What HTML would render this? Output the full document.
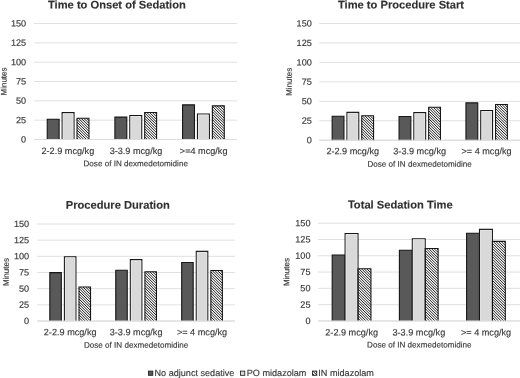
<!DOCTYPE html>
<html lang="en"><head><meta charset="utf-8"><title>Sedation times by dose of IN dexmedetomidine</title>
<style>html,body{margin:0;padding:0;background:#fff}body{width:520px;height:378px;overflow:hidden}svg{display:block}text{font-family:"Liberation Sans",sans-serif;fill:#383838;stroke:#383838;stroke-width:.15px}.t{font-weight:bold;font-size:11.15px;fill:#303030;stroke:#303030;stroke-width:.12px}.k{font-size:9.15px}.m{font-size:8px}.c{font-size:9.15px}.a{font-size:8.1px}.l{font-size:9.1px}</style></head><body>
<svg width="520" height="378" viewBox="0 0 520 378">
<rect width="520" height="378" fill="#fff"/>
<g>
<text class="t" transform="translate(116.90 8.50) rotate(0.03)" text-anchor="middle">Time to Onset of Sedation</text>
<line x1="34.0" x2="237.0" y1="23.50" y2="23.50" stroke="#dcdcdc" stroke-width="0.9"/>
<text class="k" transform="translate(26.20 26.50) rotate(0.03)" text-anchor="end">150</text>
<line x1="34.0" x2="237.0" y1="42.83" y2="42.83" stroke="#dcdcdc" stroke-width="0.9"/>
<text class="k" transform="translate(26.20 45.83) rotate(0.03)" text-anchor="end">125</text>
<line x1="34.0" x2="237.0" y1="62.17" y2="62.17" stroke="#dcdcdc" stroke-width="0.9"/>
<text class="k" transform="translate(26.20 65.17) rotate(0.03)" text-anchor="end">100</text>
<line x1="34.0" x2="237.0" y1="81.50" y2="81.50" stroke="#dcdcdc" stroke-width="0.9"/>
<text class="k" transform="translate(26.20 84.50) rotate(0.03)" text-anchor="end">75</text>
<line x1="34.0" x2="237.0" y1="100.83" y2="100.83" stroke="#dcdcdc" stroke-width="0.9"/>
<text class="k" transform="translate(26.20 103.83) rotate(0.03)" text-anchor="end">50</text>
<line x1="34.0" x2="237.0" y1="120.17" y2="120.17" stroke="#dcdcdc" stroke-width="0.9"/>
<text class="k" transform="translate(26.20 123.17) rotate(0.03)" text-anchor="end">25</text>
<line x1="34.0" x2="237.0" y1="139.50" y2="139.50" stroke="#dcdcdc" stroke-width="0.9"/>
<text class="k" transform="translate(26.20 142.50) rotate(0.03)" text-anchor="end">0</text>
<text class="m" transform="translate(6.50 81.50) rotate(-89.97)" text-anchor="middle">Minutes</text>
<path d="M47.23 139.50V119.20H59.13V139.50" fill="#595959" stroke="#161616" stroke-width="1.1"/>
<path d="M62.13 139.50V112.60H74.03V139.50" fill="#d9d9d9" stroke="#161616" stroke-width="1.1"/>
<path d="M63.13 139.50V113.60H73.03V139.50" fill="none" stroke="#ececec" stroke-width="0.6"/>
<path d="M86.40 118.20L88.93 120.73M83.75 118.20L88.93 123.38M81.10 118.20L88.93 126.03M78.45 118.20L88.93 128.68M77.03 119.43L88.93 131.33M77.03 122.08L88.93 133.98M77.03 124.73L88.93 136.63M77.03 127.38L88.93 139.28M77.03 130.03L86.50 139.50M77.03 132.68L83.85 139.50M77.03 135.33L81.20 139.50M77.03 137.98L78.55 139.50" stroke="#000" stroke-width="0.90" fill="none"/>
<path d="M77.03 139.50V118.20H88.93V139.50" fill="none" stroke="#161616" stroke-width="1.1"/>
<text class="c" transform="translate(67.83 153.90) rotate(0.03)" text-anchor="middle">2-2.9 mcg/kg</text>
<path d="M114.90 139.50V117.10H126.80V139.50" fill="#595959" stroke="#161616" stroke-width="1.1"/>
<path d="M129.80 139.50V115.50H141.70V139.50" fill="#d9d9d9" stroke="#161616" stroke-width="1.1"/>
<path d="M130.80 139.50V116.50H140.70V139.50" fill="none" stroke="#ececec" stroke-width="0.6"/>
<path d="M154.90 112.50L156.60 114.20M152.25 112.50L156.60 116.85M149.60 112.50L156.60 119.50M146.95 112.50L156.60 122.15M144.70 112.90L156.60 124.80M144.70 115.55L156.60 127.45M144.70 118.20L156.60 130.10M144.70 120.85L156.60 132.75M144.70 123.50L156.60 135.40M144.70 126.15L156.60 138.05M144.70 128.80L155.40 139.50M144.70 131.45L152.75 139.50M144.70 134.10L150.10 139.50M144.70 136.75L147.45 139.50M144.70 139.40L144.80 139.50" stroke="#000" stroke-width="0.90" fill="none"/>
<path d="M144.70 139.50V112.50H156.60V139.50" fill="none" stroke="#161616" stroke-width="1.1"/>
<text class="c" transform="translate(136.00 153.90) rotate(0.03)" text-anchor="middle">3-3.9 mcg/kg</text>
<path d="M182.57 139.50V104.85H194.47V139.50" fill="#595959" stroke="#161616" stroke-width="1.1"/>
<path d="M197.47 139.50V114.00H209.37V139.50" fill="#d9d9d9" stroke="#161616" stroke-width="1.1"/>
<path d="M198.47 139.50V115.00H208.37V139.50" fill="none" stroke="#ececec" stroke-width="0.6"/>
<path d="M222.45 105.85L224.27 107.67M219.80 105.85L224.27 110.32M217.15 105.85L224.27 112.97M214.50 105.85L224.27 115.62M212.37 106.37L224.27 118.27M212.37 109.02L224.27 120.92M212.37 111.67L224.27 123.57M212.37 114.32L224.27 126.22M212.37 116.97L224.27 128.87M212.37 119.62L224.27 131.52M212.37 122.27L224.27 134.17M212.37 124.92L224.27 136.82M212.37 127.57L224.27 139.47M212.37 130.22L221.65 139.50M212.37 132.87L219.00 139.50M212.37 135.52L216.35 139.50M212.37 138.17L213.70 139.50" stroke="#000" stroke-width="0.90" fill="none"/>
<path d="M212.37 139.50V105.85H224.27V139.50" fill="none" stroke="#161616" stroke-width="1.1"/>
<text class="c" transform="translate(203.67 153.90) rotate(0.03)" text-anchor="middle">&gt;=4 mcg/kg</text>
<line x1="34.0" x2="237.0" y1="139.50" y2="139.50" stroke="#dcdcdc" stroke-width="1"/>
<text class="a" transform="translate(135.70 166.30) rotate(0.03)" text-anchor="middle">Dose of IN dexmedetomidine</text>
</g>
<g>
<text class="t" transform="translate(401.00 8.50) rotate(0.03)" text-anchor="middle">Time to Procedure Start</text>
<line x1="319.3" x2="520.0" y1="23.50" y2="23.50" stroke="#dcdcdc" stroke-width="0.9"/>
<text class="k" transform="translate(311.80 26.50) rotate(0.03)" text-anchor="end">150</text>
<line x1="319.3" x2="520.0" y1="42.95" y2="42.95" stroke="#dcdcdc" stroke-width="0.9"/>
<text class="k" transform="translate(311.80 45.95) rotate(0.03)" text-anchor="end">125</text>
<line x1="319.3" x2="520.0" y1="62.40" y2="62.40" stroke="#dcdcdc" stroke-width="0.9"/>
<text class="k" transform="translate(311.80 65.40) rotate(0.03)" text-anchor="end">100</text>
<line x1="319.3" x2="520.0" y1="81.85" y2="81.85" stroke="#dcdcdc" stroke-width="0.9"/>
<text class="k" transform="translate(311.80 84.85) rotate(0.03)" text-anchor="end">75</text>
<line x1="319.3" x2="520.0" y1="101.30" y2="101.30" stroke="#dcdcdc" stroke-width="0.9"/>
<text class="k" transform="translate(311.80 104.30) rotate(0.03)" text-anchor="end">50</text>
<line x1="319.3" x2="520.0" y1="120.75" y2="120.75" stroke="#dcdcdc" stroke-width="0.9"/>
<text class="k" transform="translate(311.80 123.75) rotate(0.03)" text-anchor="end">25</text>
<line x1="319.3" x2="520.0" y1="140.20" y2="140.20" stroke="#dcdcdc" stroke-width="0.9"/>
<text class="k" transform="translate(311.80 143.20) rotate(0.03)" text-anchor="end">0</text>
<text class="m" transform="translate(291.80 81.85) rotate(-89.97)" text-anchor="middle">Minutes</text>
<path d="M332.15 140.20V116.20H343.95V140.20" fill="#595959" stroke="#161616" stroke-width="1.1"/>
<path d="M346.95 140.20V112.40H358.75V140.20" fill="#d9d9d9" stroke="#161616" stroke-width="1.1"/>
<path d="M347.95 140.20V113.40H357.75V140.20" fill="none" stroke="#ececec" stroke-width="0.6"/>
<path d="M372.80 115.75L373.55 116.50M370.15 115.75L373.55 119.15M367.50 115.75L373.55 121.80M364.85 115.75L373.55 124.45M362.20 115.75L373.55 127.10M361.75 117.95L373.55 129.75M361.75 120.60L373.55 132.40M361.75 123.25L373.55 135.05M361.75 125.90L373.55 137.70M361.75 128.55L373.40 140.20M361.75 131.20L370.75 140.20M361.75 133.85L368.10 140.20M361.75 136.50L365.45 140.20M361.75 139.15L362.80 140.20" stroke="#000" stroke-width="0.90" fill="none"/>
<path d="M361.75 140.20V115.75H373.55V140.20" fill="none" stroke="#161616" stroke-width="1.1"/>
<text class="c" transform="translate(352.75 154.25) rotate(0.03)" text-anchor="middle">2-2.9 mcg/kg</text>
<path d="M399.05 140.20V116.45H410.85V140.20" fill="#595959" stroke="#161616" stroke-width="1.1"/>
<path d="M413.85 140.20V112.60H425.65V140.20" fill="#d9d9d9" stroke="#161616" stroke-width="1.1"/>
<path d="M414.85 140.20V113.60H424.65V140.20" fill="none" stroke="#ececec" stroke-width="0.6"/>
<path d="M438.55 107.30L440.45 109.20M435.90 107.30L440.45 111.85M433.25 107.30L440.45 114.50M430.60 107.30L440.45 117.15M428.65 108.00L440.45 119.80M428.65 110.65L440.45 122.45M428.65 113.30L440.45 125.10M428.65 115.95L440.45 127.75M428.65 118.60L440.45 130.40M428.65 121.25L440.45 133.05M428.65 123.90L440.45 135.70M428.65 126.55L440.45 138.35M428.65 129.20L439.65 140.20M428.65 131.85L437.00 140.20M428.65 134.50L434.35 140.20M428.65 137.15L431.70 140.20M428.65 139.80L429.05 140.20" stroke="#000" stroke-width="0.90" fill="none"/>
<path d="M428.65 140.20V107.30H440.45V140.20" fill="none" stroke="#161616" stroke-width="1.1"/>
<text class="c" transform="translate(419.65 154.25) rotate(0.03)" text-anchor="middle">3-3.9 mcg/kg</text>
<path d="M465.95 140.20V102.85H477.75V140.20" fill="#595959" stroke="#161616" stroke-width="1.1"/>
<path d="M480.75 140.20V110.50H492.55V140.20" fill="#d9d9d9" stroke="#161616" stroke-width="1.1"/>
<path d="M481.75 140.20V111.50H491.55V140.20" fill="none" stroke="#ececec" stroke-width="0.6"/>
<path d="M507.30 104.50L507.35 104.55M504.65 104.50L507.35 107.20M502.00 104.50L507.35 109.85M499.35 104.50L507.35 112.50M496.70 104.50L507.35 115.15M495.55 106.00L507.35 117.80M495.55 108.65L507.35 120.45M495.55 111.30L507.35 123.10M495.55 113.95L507.35 125.75M495.55 116.60L507.35 128.40M495.55 119.25L507.35 131.05M495.55 121.90L507.35 133.70M495.55 124.55L507.35 136.35M495.55 127.20L507.35 139.00M495.55 129.85L505.90 140.20M495.55 132.50L503.25 140.20M495.55 135.15L500.60 140.20M495.55 137.80L497.95 140.20" stroke="#000" stroke-width="0.90" fill="none"/>
<path d="M495.55 140.20V104.50H507.35V140.20" fill="none" stroke="#161616" stroke-width="1.1"/>
<text class="c" transform="translate(486.55 154.25) rotate(0.03)" text-anchor="middle">&gt;= 4 mcg/kg</text>
<line x1="319.3" x2="520.0" y1="140.20" y2="140.20" stroke="#dcdcdc" stroke-width="1"/>
<text class="a" transform="translate(419.65 166.80) rotate(0.03)" text-anchor="middle">Dose of IN dexmedetomidine</text>
</g>
<g>
<text class="t" transform="translate(117.80 208.70) rotate(0.03)" text-anchor="middle">Procedure Duration</text>
<line x1="37.2" x2="235.0" y1="224.00" y2="224.00" stroke="#dcdcdc" stroke-width="0.9"/>
<text class="k" transform="translate(29.20 227.00) rotate(0.03)" text-anchor="end">150</text>
<line x1="37.2" x2="235.0" y1="240.17" y2="240.17" stroke="#dcdcdc" stroke-width="0.9"/>
<text class="k" transform="translate(29.20 243.17) rotate(0.03)" text-anchor="end">125</text>
<line x1="37.2" x2="235.0" y1="256.33" y2="256.33" stroke="#dcdcdc" stroke-width="0.9"/>
<text class="k" transform="translate(29.20 259.33) rotate(0.03)" text-anchor="end">100</text>
<line x1="37.2" x2="235.0" y1="272.50" y2="272.50" stroke="#dcdcdc" stroke-width="0.9"/>
<text class="k" transform="translate(29.20 275.50) rotate(0.03)" text-anchor="end">75</text>
<line x1="37.2" x2="235.0" y1="288.67" y2="288.67" stroke="#dcdcdc" stroke-width="0.9"/>
<text class="k" transform="translate(29.20 291.67) rotate(0.03)" text-anchor="end">50</text>
<line x1="37.2" x2="235.0" y1="304.83" y2="304.83" stroke="#dcdcdc" stroke-width="0.9"/>
<text class="k" transform="translate(29.20 307.83) rotate(0.03)" text-anchor="end">25</text>
<line x1="37.2" x2="235.0" y1="321.00" y2="321.00" stroke="#dcdcdc" stroke-width="0.9"/>
<text class="k" transform="translate(29.20 324.00) rotate(0.03)" text-anchor="end">0</text>
<text class="m" transform="translate(8.75 272.10) rotate(-89.97)" text-anchor="middle">Minutes</text>
<path d="M49.82 321.00V272.60H61.32V321.00" fill="#595959" stroke="#161616" stroke-width="1.1"/>
<path d="M64.42 321.00V256.70H75.92V321.00" fill="#d9d9d9" stroke="#161616" stroke-width="1.1"/>
<path d="M65.42 321.00V257.70H74.92V321.00" fill="none" stroke="#ececec" stroke-width="0.6"/>
<path d="M88.30 287.05L90.52 289.27M85.65 287.05L90.52 291.92M83.00 287.05L90.52 294.57M80.35 287.05L90.52 297.22M79.02 288.37L90.52 299.87M79.02 291.02L90.52 302.52M79.02 293.67L90.52 305.17M79.02 296.32L90.52 307.82M79.02 298.97L90.52 310.47M79.02 301.62L90.52 313.12M79.02 304.27L90.52 315.77M79.02 306.92L90.52 318.42M79.02 309.57L90.45 321.00M79.02 312.22L87.80 321.00M79.02 314.87L85.15 321.00M79.02 317.52L82.50 321.00M79.02 320.17L79.85 321.00" stroke="#000" stroke-width="0.90" fill="none"/>
<path d="M79.02 321.00V287.05H90.52V321.00" fill="none" stroke="#161616" stroke-width="1.1"/>
<text class="c" transform="translate(70.17 335.20) rotate(0.03)" text-anchor="middle">2-2.9 mcg/kg</text>
<path d="M115.75 321.00V270.25H127.25V321.00" fill="#595959" stroke="#161616" stroke-width="1.1"/>
<path d="M130.35 321.00V259.65H141.85V321.00" fill="#d9d9d9" stroke="#161616" stroke-width="1.1"/>
<path d="M131.35 321.00V260.65H140.85V321.00" fill="none" stroke="#ececec" stroke-width="0.6"/>
<path d="M155.15 271.75L156.45 273.05M152.50 271.75L156.45 275.70M149.85 271.75L156.45 278.35M147.20 271.75L156.45 281.00M144.95 272.15L156.45 283.65M144.95 274.80L156.45 286.30M144.95 277.45L156.45 288.95M144.95 280.10L156.45 291.60M144.95 282.75L156.45 294.25M144.95 285.40L156.45 296.90M144.95 288.05L156.45 299.55M144.95 290.70L156.45 302.20M144.95 293.35L156.45 304.85M144.95 296.00L156.45 307.50M144.95 298.65L156.45 310.15M144.95 301.30L156.45 312.80M144.95 303.95L156.45 315.45M144.95 306.60L156.45 318.10M144.95 309.25L156.45 320.75M144.95 311.90L154.05 321.00M144.95 314.55L151.40 321.00M144.95 317.20L148.75 321.00M144.95 319.85L146.10 321.00" stroke="#000" stroke-width="0.90" fill="none"/>
<path d="M144.95 321.00V271.75H156.45V321.00" fill="none" stroke="#161616" stroke-width="1.1"/>
<text class="c" transform="translate(136.10 335.20) rotate(0.03)" text-anchor="middle">3-3.9 mcg/kg</text>
<path d="M181.68 321.00V262.50H193.18V321.00" fill="#595959" stroke="#161616" stroke-width="1.1"/>
<path d="M196.28 321.00V251.40H207.78V321.00" fill="#d9d9d9" stroke="#161616" stroke-width="1.1"/>
<path d="M197.28 321.00V252.40H206.78V321.00" fill="none" stroke="#ececec" stroke-width="0.6"/>
<path d="M220.20 270.55L222.38 272.73M217.55 270.55L222.38 275.38M214.90 270.55L222.38 278.03M212.25 270.55L222.38 280.68M210.88 271.83L222.38 283.33M210.88 274.48L222.38 285.98M210.88 277.13L222.38 288.63M210.88 279.78L222.38 291.28M210.88 282.43L222.38 293.93M210.88 285.08L222.38 296.58M210.88 287.73L222.38 299.23M210.88 290.38L222.38 301.88M210.88 293.03L222.38 304.53M210.88 295.68L222.38 307.18M210.88 298.33L222.38 309.83M210.88 300.98L222.38 312.48M210.88 303.63L222.38 315.13M210.88 306.28L222.38 317.78M210.88 308.93L222.38 320.43M210.88 311.58L220.30 321.00M210.88 314.23L217.65 321.00M210.88 316.88L215.00 321.00M210.88 319.53L212.35 321.00" stroke="#000" stroke-width="0.90" fill="none"/>
<path d="M210.88 321.00V270.55H222.38V321.00" fill="none" stroke="#161616" stroke-width="1.1"/>
<text class="c" transform="translate(202.03 335.20) rotate(0.03)" text-anchor="middle">&gt;= 4 mcg/kg</text>
<line x1="37.2" x2="235.0" y1="321.00" y2="321.00" stroke="#dcdcdc" stroke-width="1"/>
<text class="a" transform="translate(136.10 347.80) rotate(0.03)" text-anchor="middle">Dose of IN dexmedetomidine</text>
</g>
<g>
<text class="t" transform="translate(400.30 208.40) rotate(0.03)" text-anchor="middle">Total Sedation Time</text>
<line x1="317.9" x2="520.0" y1="223.20" y2="223.20" stroke="#dcdcdc" stroke-width="0.9"/>
<text class="k" transform="translate(310.50 226.20) rotate(0.03)" text-anchor="end">150</text>
<line x1="317.9" x2="520.0" y1="239.49" y2="239.49" stroke="#dcdcdc" stroke-width="0.9"/>
<text class="k" transform="translate(310.50 242.49) rotate(0.03)" text-anchor="end">125</text>
<line x1="317.9" x2="520.0" y1="255.78" y2="255.78" stroke="#dcdcdc" stroke-width="0.9"/>
<text class="k" transform="translate(310.50 258.78) rotate(0.03)" text-anchor="end">100</text>
<line x1="317.9" x2="520.0" y1="272.07" y2="272.07" stroke="#dcdcdc" stroke-width="0.9"/>
<text class="k" transform="translate(310.50 275.07) rotate(0.03)" text-anchor="end">75</text>
<line x1="317.9" x2="520.0" y1="288.37" y2="288.37" stroke="#dcdcdc" stroke-width="0.9"/>
<text class="k" transform="translate(310.50 291.37) rotate(0.03)" text-anchor="end">50</text>
<line x1="317.9" x2="520.0" y1="304.66" y2="304.66" stroke="#dcdcdc" stroke-width="0.9"/>
<text class="k" transform="translate(310.50 307.66) rotate(0.03)" text-anchor="end">25</text>
<line x1="317.9" x2="520.0" y1="320.95" y2="320.95" stroke="#dcdcdc" stroke-width="0.9"/>
<text class="k" transform="translate(310.50 323.95) rotate(0.03)" text-anchor="end">0</text>
<text class="m" transform="translate(289.30 272.07) rotate(-89.97)" text-anchor="middle">Minutes</text>
<path d="M332.20 320.95V255.05H345.10V320.95" fill="#595959" stroke="#161616" stroke-width="1.1"/>
<path d="M345.10 320.95V233.50H358.00V320.95" fill="#d9d9d9" stroke="#161616" stroke-width="1.1"/>
<path d="M346.10 320.95V234.50H357.00V320.95" fill="none" stroke="#ececec" stroke-width="0.6"/>
<path d="M369.45 268.75L370.90 270.20M366.80 268.75L370.90 272.85M364.15 268.75L370.90 275.50M361.50 268.75L370.90 278.15M358.85 268.75L370.90 280.80M358.00 270.55L370.90 283.45M358.00 273.20L370.90 286.10M358.00 275.85L370.90 288.75M358.00 278.50L370.90 291.40M358.00 281.15L370.90 294.05M358.00 283.80L370.90 296.70M358.00 286.45L370.90 299.35M358.00 289.10L370.90 302.00M358.00 291.75L370.90 304.65M358.00 294.40L370.90 307.30M358.00 297.05L370.90 309.95M358.00 299.70L370.90 312.60M358.00 302.35L370.90 315.25M358.00 305.00L370.90 317.90M358.00 307.65L370.90 320.55M358.00 310.30L368.65 320.95M358.00 312.95L366.00 320.95M358.00 315.60L363.35 320.95M358.00 318.25L360.70 320.95M358.00 320.90L358.05 320.95" stroke="#000" stroke-width="0.90" fill="none"/>
<path d="M358.00 320.95V268.75H370.90V320.95" fill="none" stroke="#161616" stroke-width="1.1"/>
<text class="c" transform="translate(351.65 335.50) rotate(0.03)" text-anchor="middle">2-2.9 mcg/kg</text>
<path d="M399.40 320.95V250.30H412.30V320.95" fill="#595959" stroke="#161616" stroke-width="1.1"/>
<path d="M412.30 320.95V238.70H425.20V320.95" fill="#d9d9d9" stroke="#161616" stroke-width="1.1"/>
<path d="M413.30 320.95V239.70H424.20V320.95" fill="none" stroke="#ececec" stroke-width="0.6"/>
<path d="M436.65 248.50L438.10 249.95M434.00 248.50L438.10 252.60M431.35 248.50L438.10 255.25M428.70 248.50L438.10 257.90M426.05 248.50L438.10 260.55M425.20 250.30L438.10 263.20M425.20 252.95L438.10 265.85M425.20 255.60L438.10 268.50M425.20 258.25L438.10 271.15M425.20 260.90L438.10 273.80M425.20 263.55L438.10 276.45M425.20 266.20L438.10 279.10M425.20 268.85L438.10 281.75M425.20 271.50L438.10 284.40M425.20 274.15L438.10 287.05M425.20 276.80L438.10 289.70M425.20 279.45L438.10 292.35M425.20 282.10L438.10 295.00M425.20 284.75L438.10 297.65M425.20 287.40L438.10 300.30M425.20 290.05L438.10 302.95M425.20 292.70L438.10 305.60M425.20 295.35L438.10 308.25M425.20 298.00L438.10 310.90M425.20 300.65L438.10 313.55M425.20 303.30L438.10 316.20M425.20 305.95L438.10 318.85M425.20 308.60L437.55 320.95M425.20 311.25L434.90 320.95M425.20 313.90L432.25 320.95M425.20 316.55L429.60 320.95M425.20 319.20L426.95 320.95" stroke="#000" stroke-width="0.90" fill="none"/>
<path d="M425.20 320.95V248.50H438.10V320.95" fill="none" stroke="#161616" stroke-width="1.1"/>
<text class="c" transform="translate(418.85 335.50) rotate(0.03)" text-anchor="middle">3-3.9 mcg/kg</text>
<path d="M466.60 320.95V233.20H479.50V320.95" fill="#595959" stroke="#161616" stroke-width="1.1"/>
<path d="M479.50 320.95V229.40H492.40V320.95" fill="#d9d9d9" stroke="#161616" stroke-width="1.1"/>
<path d="M480.50 320.95V230.40H491.40V320.95" fill="none" stroke="#ececec" stroke-width="0.6"/>
<path d="M503.75 241.40L505.30 242.95M501.10 241.40L505.30 245.60M498.45 241.40L505.30 248.25M495.80 241.40L505.30 250.90M493.15 241.40L505.30 253.55M492.40 243.30L505.30 256.20M492.40 245.95L505.30 258.85M492.40 248.60L505.30 261.50M492.40 251.25L505.30 264.15M492.40 253.90L505.30 266.80M492.40 256.55L505.30 269.45M492.40 259.20L505.30 272.10M492.40 261.85L505.30 274.75M492.40 264.50L505.30 277.40M492.40 267.15L505.30 280.05M492.40 269.80L505.30 282.70M492.40 272.45L505.30 285.35M492.40 275.10L505.30 288.00M492.40 277.75L505.30 290.65M492.40 280.40L505.30 293.30M492.40 283.05L505.30 295.95M492.40 285.70L505.30 298.60M492.40 288.35L505.30 301.25M492.40 291.00L505.30 303.90M492.40 293.65L505.30 306.55M492.40 296.30L505.30 309.20M492.40 298.95L505.30 311.85M492.40 301.60L505.30 314.50M492.40 304.25L505.30 317.15M492.40 306.90L505.30 319.80M492.40 309.55L503.80 320.95M492.40 312.20L501.15 320.95M492.40 314.85L498.50 320.95M492.40 317.50L495.85 320.95M492.40 320.15L493.20 320.95" stroke="#000" stroke-width="0.90" fill="none"/>
<path d="M492.40 320.95V241.40H505.30V320.95" fill="none" stroke="#161616" stroke-width="1.1"/>
<text class="c" transform="translate(486.05 335.50) rotate(0.03)" text-anchor="middle">&gt;= 4 mcg/kg</text>
<line x1="317.9" x2="520.0" y1="320.95" y2="320.95" stroke="#dcdcdc" stroke-width="1"/>
<text class="a" transform="translate(419.30 347.50) rotate(0.03)" text-anchor="middle">Dose of IN dexmedetomidine</text>
</g>
<g>
<rect x="148.5" y="371.1" width="4.3" height="4.2" fill="#595959" stroke="#161616" stroke-width="0.8"/>
<text class="l" transform="translate(154.50 375.90) rotate(0.03)">No adjunct sedative</text>
<rect x="240.5" y="371.1" width="4.3" height="4.2" fill="#d9d9d9" stroke="#161616" stroke-width="0.8"/>
<text class="l" transform="translate(246.75 375.90) rotate(0.03)">PO midazolam</text>
<path d="M315.45 371.10L316.80 372.45M312.80 371.10L316.80 375.10M312.50 373.45L314.35 375.30" stroke="#000" stroke-width="0.90" fill="none"/>
<rect x="312.5" y="371.1" width="4.3" height="4.2" fill="none" stroke="#161616" stroke-width="0.8"/>
<text class="l" transform="translate(318.30 375.90) rotate(0.03)">IN midazolam</text>
</g>
</svg></body></html>
